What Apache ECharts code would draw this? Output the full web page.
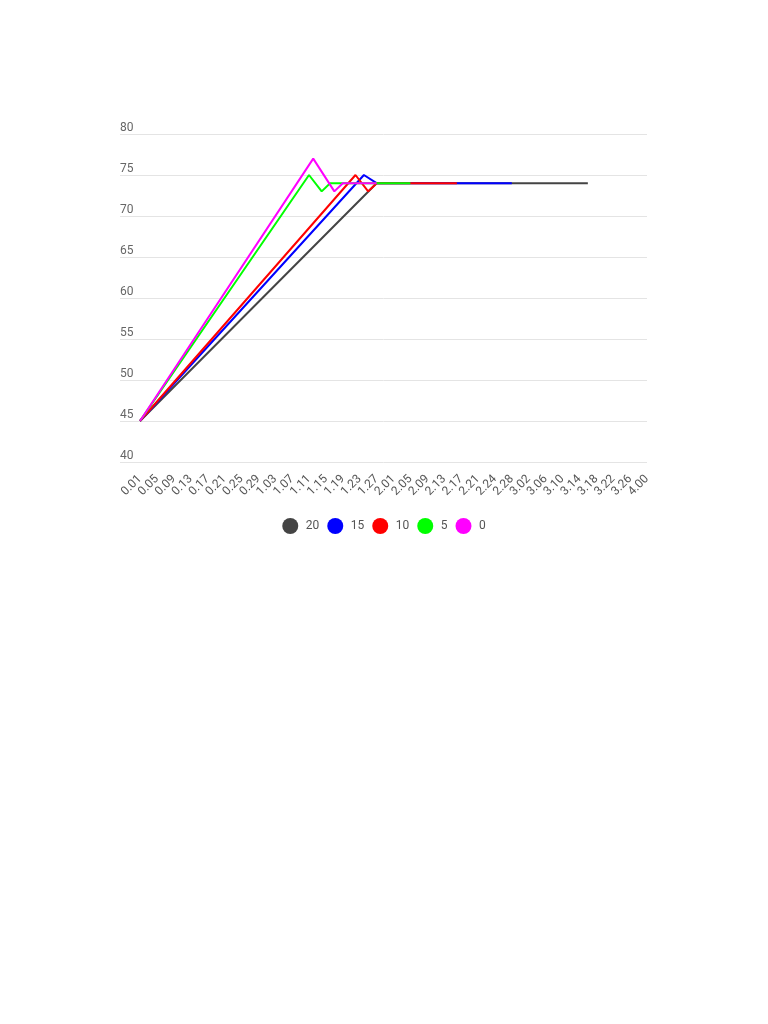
<!DOCTYPE html>
<html>
<head>
<meta charset="utf-8">
<script src="https://cdn.jsdelivr.net/npm/echarts@6/dist/echarts.min.js"></script>
<style>
html,body{margin:0;padding:0;background:#fff;}
#chart{width:768px;height:1024px;}
</style>
</head>
<body>
<div id="chart"></div>
<script>
// Category (tick) labels
const categories = [
'0.01','0.02','0.03','0.04','0.05','0.06','0.07','0.08','0.09','0.10',
'0.11','0.12','0.13','0.14','0.15','0.16','0.17','0.18','0.19','0.20',
'0.21','0.22','0.23','0.24','0.25','0.26','0.27','0.28','0.29',
'1.00','1.01','1.02','1.03','1.04','1.05','1.06','1.07','1.08','1.09',
'1.10','1.11','1.12','1.13','1.14','1.15','1.16','1.17','1.18','1.19',
'1.20','1.21','1.22','1.23','1.24','1.25','1.26','1.27','1.28','1.29',
'2.00','2.01','2.02','2.03','2.04','2.05','2.06','2.07','2.08','2.09',
'2.10','2.11','2.12','2.13','2.14','2.15','2.16','2.17','2.18','2.19',
'2.20','2.21','2.22','2.23','2.235','2.24','2.25','2.26','2.27','2.28','2.29',
'3.00','3.01','3.02','3.03','3.04','3.05','3.06','3.07','3.08','3.09',
'3.10','3.11','3.12','3.13','3.14','3.15','3.16','3.17','3.18','3.19',
'3.20','3.21','3.22','3.23','3.24','3.25','3.26','3.27','3.28','3.29',
'4.00'
];

// Series values [category, value]
const series20 = [['0.01',45],['1.27',74],['3.16',74]];
const series15 = [['0.01',45],['1.24',75],['1.27',74],['2.28',74]];
const series10 = [['0.01',45],['1.22',75],['1.25',73],['1.27',74],['2.16',74]];
const series5  = [['0.01',45],['1.11',75],['1.14',73],['1.16',74],['2.05',74]];
const series0  = [['0.01',45],['1.12',77],['1.17',73],['1.19',74],['1.27',74]];

const seriesNames = ['20','15','10','5','0'];
const seriesColors = ['#444444','#0000ff','#ff0000','#00ff00','#ff00ff'];
const seriesData = [series20, series15, series10, series5, series0];

const yMin = 40, yMax = 80, yStep = 5;

const chart = echarts.init(document.getElementById('chart'), null, {renderer:'canvas'});
chart.setOption({
  animation: false,
  backgroundColor: '#ffffff',
  textStyle: {fontFamily: 'Roboto'},
  legend: {
    data: seriesNames,
    icon: 'circle',
    left: 'center',
    top: 513,
    itemWidth: 21,
    itemHeight: 16,
    itemGap: 8,
    textStyle: {fontSize: 12, color: '#555', fontFamily: 'Roboto'}
  },
  grid: [
    {left: 120, right: 121, top: 134, height: 328},
    {left: 140, right: 121, top: 134, height: 328}
  ],
  xAxis: [
    {gridIndex: 0, type: 'value', show: false, min: 0, max: 1},
    {
      gridIndex: 1, type: 'category', data: categories, boundaryGap: false,
      axisLine: {show: false}, axisTick: {show: false},
      axisLabel: {interval: 3, rotate: 45, fontSize: 12, color: '#555', margin: 15, fontFamily: 'Roboto'},
      splitLine: {show: false}
    }
  ],
  yAxis: [
    {
      gridIndex: 0, type: 'value', min: yMin, max: yMax, interval: yStep,
      axisLine: {show: false}, axisTick: {show: false},
      splitLine: {show: true, lineStyle: {color: '#e4e4e4', width: 1}},
      axisLabel: {inside: true, margin: 0, verticalAlign: 'bottom', padding: 0, fontSize: 12, color: '#666', fontFamily: 'Roboto'}
    },
    {gridIndex: 1, type: 'value', min: yMin, max: yMax, interval: yStep, show: false}
  ],
  series: seriesNames.map((n, i) => ({
    name: n,
    type: 'line',
    xAxisIndex: 1,
    yAxisIndex: 1,
    data: seriesData[i],
    symbol: 'none',
    showSymbol: false,
    color: seriesColors[i],
    lineStyle: {width: 2, color: seriesColors[i]}
  }))
});
</script>
</body>
</html>
